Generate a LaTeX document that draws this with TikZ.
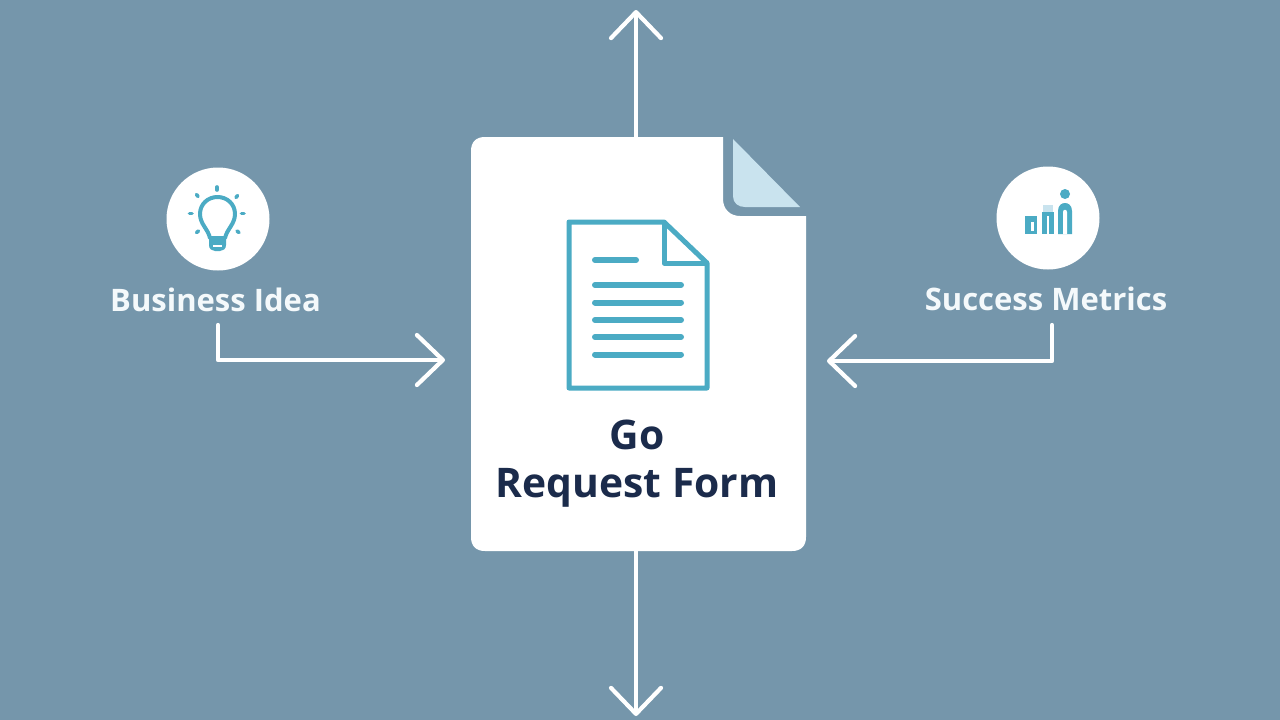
\documentclass[tikz,border=0pt]{standalone}
\usepackage{fontspec}
\setmainfont{Open Sans}
\usetikzlibrary{arrows.meta,calc}
\definecolor{bgc}{HTML}{7596AB}
\definecolor{teal}{HTML}{4BABC4}
\definecolor{paleb}{HTML}{C9E3EE}
\definecolor{navy}{HTML}{1B2B4B}
\definecolor{softw}{HTML}{F4F9FB}
\tikzset{
  x=1pt,y=-1pt,
  conn/.style={draw=white,line width=4.2pt,line join=round,-{Straight Barb[length=26pt,width=50pt,line width=4.2pt,round]}},
  disc/.style={circle,fill=white,minimum size=103pt,inner sep=0pt},
  sidelabel/.style={text=softw,font=\fontsize{31}{36}\selectfont\bfseries,inner sep=0pt,anchor=center},
  title/.style={text=navy,font=\fontsize{40.8}{48}\selectfont\bfseries,inner sep=0pt,align=center},
  icon/.style={draw=teal,line width=5pt,line join=round},
  rule/.style={draw=teal,line width=6pt,line cap=round},
  thin/.style={draw=teal,line width=4pt,line cap=round,line join=round},
  ray/.style={draw=teal,line width=3.6pt,line cap=round},
  bar/.style={fill=teal,draw=none},
  slit/.style={fill=white,draw=none}
}
\begin{document}
\begin{tikzpicture}
\useasboundingbox (0,0) rectangle (1280,720);
\fill[bgc] (0,0) rectangle (1280,720);
% anchors of the connectors
\node[minimum width=335pt,minimum height=414pt,inner sep=0pt] (page) at (638.5,344) {};
\node[disc] (idea) at (218,219) {};
\node[disc] (metrics) at (1048,218) {};
\node[sidelabel] (idealabel) at (215.5,300) {Business Idea};
\node[sidelabel] (metricslabel) at (1046,299) {Success Metrics};
\coordinate (topend) at (636,10);
\coordinate (bottomend) at (636,716);
\coordinate (leftend) at (445,360);
\coordinate (rightend) at (827,361);
\coordinate (ideastart) at (218,325);
\coordinate (metricsstart) at (1052,325);
% connectors
\draw[conn] (636,140) -- (topend);
\draw[conn] (636,548) -- (bottomend);
\draw[conn,line cap=round] (ideastart) |- (leftend);
\draw[conn,line cap=round] (metricsstart) |- (rightend);
% page
\fill[white] (485,137) -- (723,137) -- (723,199)
  .. controls (723,209) and (730,216) .. (740,216)
  -- (806,216) -- (806,537)
  .. controls (806,546) and (801,551) .. (792,551)
  -- (485,551)
  .. controls (476,551) and (471,546) .. (471,537)
  -- (471,151)
  .. controls (471,142) and (476,137) .. (485,137) -- cycle;
\fill[paleb] (733,139) -- (800,207) -- (745,207)
  .. controls (738,207) and (733,203) .. (733,196) -- cycle;
% document icon
\draw[icon] (569,222) -- (664,222) -- (707,263) -- (707,388) -- (569,388) -- cycle;
\draw[icon] (664,222) -- (664,263) -- (707,263);
\draw[rule] (595,260) -- (636,260);
\draw[rule] (595,285) -- (681,285);
\draw[rule] (595,302.5) -- (681,302.5);
\draw[rule] (595,320) -- (681,320);
\draw[rule] (595,337) -- (681,337);
\draw[rule] (595,354.5) -- (681,354.5);
\node[title] (formtitle) at (637,464) {Go\\Request Form};
% bulb icon
\draw[thin] (210,238) .. controls (208,229) and (200,224) .. (200,214)
  .. controls (200,204) and (208,197) .. (217.5,197)
  .. controls (227,197) and (235,204) .. (235,214)
  .. controls (235,224) and (227,229) .. (225,238) -- cycle;
\fill[teal] (209,239) -- (226,239) -- (226,245)
  .. controls (226,249) and (223,251) .. (220,251) -- (215,251)
  .. controls (212,251) and (209,249) .. (209,245) -- cycle;
\draw[white,line width=1.5pt] (213,246) -- (222,246);
\draw[ray] (217,187) -- (217,190);
\draw[ray] (196.5,194.5) -- (198,196.5);
\draw[ray] (237.5,195.5) -- (236,197.5);
\draw[ray] (189.5,213.5) -- (192,213.5);
\draw[ray] (241.5,213.5) -- (244,213.5);
\draw[ray] (196.5,232.5) -- (198.5,231);
\draw[ray] (239,232.5) -- (237,231);
% chart icon
\fill[bar] (1025,216) rectangle (1037,234);
\fill[slit] (1031,222) rectangle (1034,231);
\fill[paleb] (1043,205) rectangle (1053,214);
\fill[bar] (1042,212) rectangle (1054,234);
\fill[slit] (1047,216) rectangle (1049,234);
\fill[bar] (1058,234) -- (1058,211) .. controls (1058,205) and (1062,203) .. (1065,203)
  .. controls (1068,203) and (1072,205) .. (1072,211) -- (1072,234) -- cycle;
\fill[slit] (1063,234) -- (1063,212) .. controls (1063,209) and (1067,209) .. (1067,212) -- (1067,234) -- cycle;
\fill[teal] (1065,194) circle[radius=5pt];
\end{tikzpicture}
\end{document}
